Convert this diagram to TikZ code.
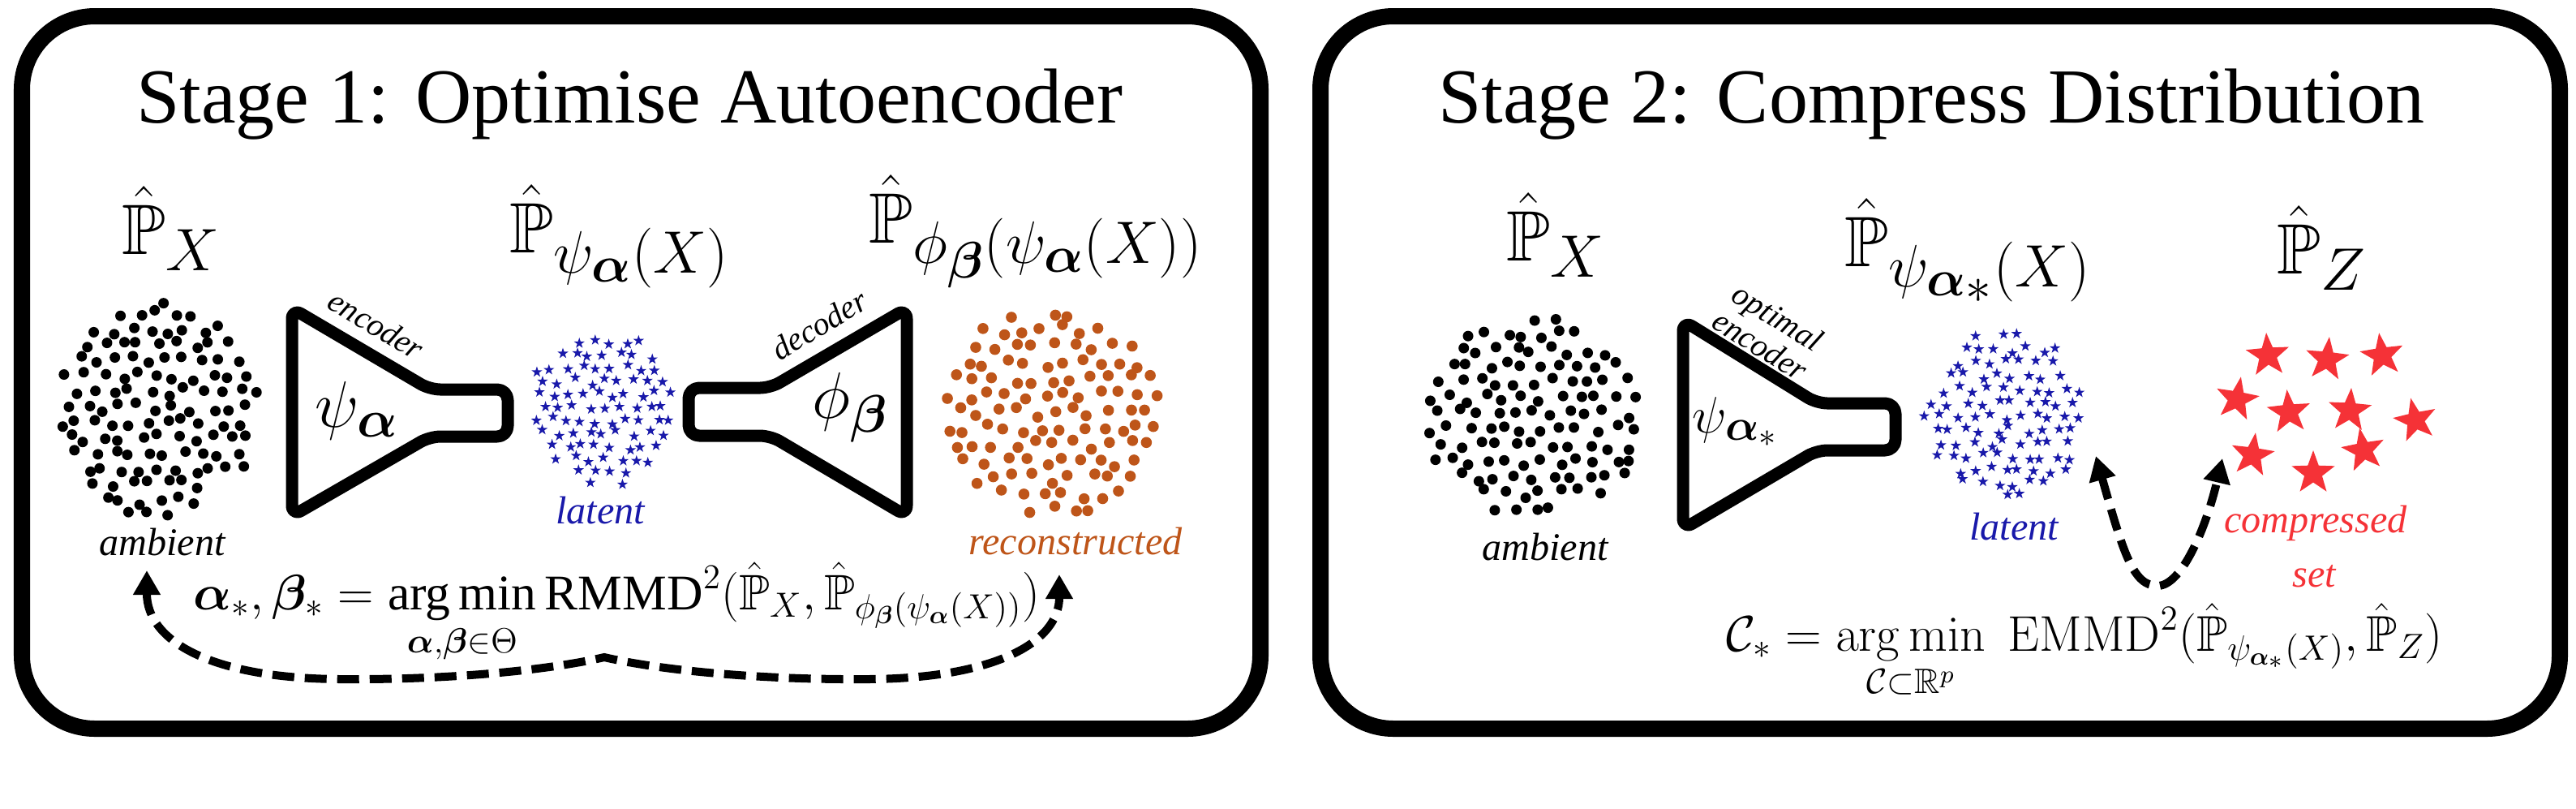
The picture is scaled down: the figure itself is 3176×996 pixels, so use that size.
\RequirePackage{fix-cm}
\documentclass[tikz,border=0pt]{standalone}
\usepackage{amsmath,amssymb,bm}
\usepackage[no-math]{fontspec}
\setmainfont{Liberation Serif}
\usetikzlibrary{arrows.meta}
\DeclareMathSizes{25}{25}{21}{18}
\DeclareMathSizes{23}{23}{18.5}{15}
\DeclareMathSizes{18}{18}{15.5}{12}
\definecolor{latentblue}{RGB}{25,25,170}
\definecolor{reconorange}{RGB}{190,85,25}
\definecolor{compred}{RGB}{245,50,55}
\newcommand\scattercloud[8]{%
  \pgfmathsetseed{#6}%
  \pgfmathtruncatemacro\cNi{ceil(#3/#5)+1}%
  \pgfmathtruncatemacro\cNj{ceil(#4/(0.866*#5))+1}%
  \foreach \i in {-\cNi,...,\cNi}{%
    \foreach \j in {-\cNj,...,\cNj}{%
      \pgfmathsetmacro\cDx{(\i+0.5*mod(abs(\j),2))*#5+#8*#5*rand}%
      \pgfmathsetmacro\cDy{\j*0.866*#5+#8*#5*rand}%
      \pgfmathsetmacro\cR{(\cDx/#3)^2+(\cDy/#4)^2+0.12*rand}%
      \ifdim\cR pt<1pt\relax
        \pgfmathsetmacro\cAx{#1+\cDx}\pgfmathsetmacro\cAy{#2+\cDy}%
        #7{\cAx}{\cAy}%
      \fi
    }%
  }%
}
\newcommand\blackdot[2]{\fill (#1,#2) circle[radius=0.065cm];}
\newcommand\orangedot[2]{\fill[reconorange] (#1,#2) circle[radius=0.068cm];}
\newcommand\bluestar[2]{\fill[latentblue, shift={(#1,#2)}] (90:0.07cm) -- (126:0.027cm) -- (162:0.07cm) -- (198:0.027cm) -- (234:0.07cm) -- (270:0.027cm) -- (306:0.07cm) -- (342:0.027cm) -- (18:0.07cm) -- (54:0.027cm) -- cycle;}
\newcommand\redstar[3]{\fill[compred, shift={(#1,#2)}, rotate=#3] (90:0.28cm) -- (126:0.115cm) -- (162:0.28cm) -- (198:0.115cm) -- (234:0.28cm) -- (270:0.115cm) -- (306:0.28cm) -- (342:0.115cm) -- (18:0.28cm) -- (54:0.115cm) -- cycle;}
\begin{document}
\begin{tikzpicture}[x=0.01cm,y=-0.01cm,
  panel/.style={line width=0.2cm, rounded corners=0.9cm},
  coder/.style={line width=0.15cm, rounded corners=0.13cm, line join=round},
  loss/.style={line width=0.1cm, dash pattern=on 0.27cm off 0.13cm,
    arrows={Triangle[length=0.3cm,width=0.32cm]-Triangle[length=0.3cm,width=0.32cm]}},
  ttl/.style={font=\fontsize{27.3}{32}\selectfont, anchor=base, inner sep=0},
  lbl/.style={font=\fontsize{13.7}{16}\selectfont\itshape, anchor=base, inner sep=0},
  tag/.style={font=\fontsize{11.4}{11.6}\selectfont\itshape, inner sep=0},
  dist/.style={font=\fontsize{25}{30}\selectfont, anchor=base west, inner sep=0},
]
\useasboundingbox (0,0) rectangle (3176,996);
% panels
\draw[panel] (27,20) rectangle (1554,898);
\draw[panel] (1628,20) rectangle (3156,898);
% titles
\node[ttl] (title1) at (776,151) {Stage 1: Optimise Autoencoder};
\node[ttl] (title2) at (2381,151) {Stage 2: Compress Distribution};
% distribution labels
\node[dist] (px1) at (150,313) {$\hat{\mathbb P}_X$};
\node[dist] (pz1) at (628,311) {$\hat{\mathbb P}_{\psi_{\bm\alpha}(X)}$};
\node[dist] (pr1) at (1071,299) {$\hat{\mathbb P}_{\phi_{\bm\beta}(\psi_{\bm\alpha}(X))}$};
\node[dist] (px2) at (1857,321) {$\hat{\mathbb P}_X$};
\node[dist] (pz2) at (2274,328) {$\hat{\mathbb P}_{\psi_{\bm\alpha_*}(X)}$};
\node[dist] (pzz2) at (2807,337) {$\hat{\mathbb P}_Z$};
% clouds
\scattercloud{194}{502}{124}{134}{22}{11}{\blackdot}{0.27}
\scattercloud{745}{502}{92}{96}{18.5}{23}{\bluestar}{0.27}
\scattercloud{1298}{508}{140}{127}{23.5}{37}{\orangedot}{0.27}
\scattercloud{1890}{510}{135}{124}{22.5}{41}{\blackdot}{0.27}
\scattercloud{2471}{513}{97}{105}{19}{53}{\bluestar}{0.27}
% compressed set
\redstar{2796}{438}{4}
\redstar{2869}{443}{-6}
\redstar{2937}{438}{8}
\redstar{2758}{492}{-10}
\redstar{2822}{508}{5}
\redstar{2897}{506}{-4}
\redstar{2978}{518}{12}
\redstar{2777}{561}{-8}
\redstar{2914}{555}{10}
\redstar{2852}{583}{0}
% encoder / decoder shapes
\draw[coder] (360,380) -- (530,480) -- (626,480) -- (626,538) -- (530,538) -- (360,636) -- cycle;
\draw[coder] (1118,380) -- (950,478) -- (849,478) -- (849,537) -- (950,537) -- (1118,636) -- cycle;
\draw[coder] (2075,395) -- (2240,497) -- (2337,497) -- (2337,555) -- (2240,555) -- (2075,652) -- cycle;
\node[font=\fontsize{23}{28}\selectfont, inner sep=0] (psi1) at (440,506) {$\psi_{\bm\alpha}$};
\node[font=\fontsize{23}{28}\selectfont, inner sep=0] (phi1) at (1048,502) {$\phi_{\bm\beta}$};
\node[font=\fontsize{18}{21}\selectfont, inner sep=0] (psi2) at (2140,520) {$\psi_{\bm\alpha_*}$};
\node[tag, rotate=-31] (enc1) at (464,400) {encoder};
\node[tag, rotate=31] (dec1) at (1010,400) {decoder};
\node[tag, rotate=-32, align=center] (enc2) at (2181,408) {optimal\\encoder};
% cloud labels
\node[lbl] (amb1) at (200,684) {ambient};
\node[lbl, text=latentblue] (lat1) at (740,645) {latent};
\node[lbl, text=reconorange] (rec1) at (1326,683) {reconstructed};
\node[lbl] (amb2) at (1905,690) {ambient};
\node[lbl, text=latentblue] (lat2) at (2483,665) {latent};
\node[lbl, text=compred] (cmp2) at (2855,656) {compressed};
\node[lbl, text=compred] (set2) at (2853,723) {set};
% objectives
\node[anchor=base west, inner sep=0, font=\fontsize{17.5}{20}\selectfont] (eq1) at (238,751)
  {$\displaystyle \bm\alpha_*,\bm\beta_* = \mathop{\text{arg\,min}}_{\bm\alpha,\bm\beta\in\Theta}\text{RMMD}^2(\hat{\mathbb P}_X,\hat{\mathbb P}_{\phi_{\bm\beta}(\psi_{\bm\alpha}(X))})$};
\node[anchor=base west, inner sep=0, font=\fontsize{17.6}{20}\selectfont] (eq2) at (2128,802)
  {$\displaystyle \mathcal C_* = \mathop{\mathrm{arg\,min}}_{\mathcal C\subset\mathbb R^p}\;\mathrm{EMMD}^2(\hat{\mathbb P}_{\psi_{\bm\alpha_*}(X)},\hat{\mathbb P}_Z)$};
% loss arrows
\coordinate (a1) at (181,703);
\coordinate (a1m) at (745,810);
\coordinate (a1r) at (1306,708);
\draw[loss] (a1) .. controls (181,790) and (260,836) .. (420,837) .. controls (560,838) and (680,825) .. (a1m) .. controls (810,825) and (930,838) .. (1070,837) .. controls (1230,836) and (1306,790) .. (a1r);
\coordinate (b1) at (2584,562);
\coordinate (b2) at (2740,565);
\draw[loss] (b1) .. controls (2618,682) and (2630,722) .. (2660,722) .. controls (2690,722) and (2720,650) .. (b2);
\end{tikzpicture}
\end{document}
